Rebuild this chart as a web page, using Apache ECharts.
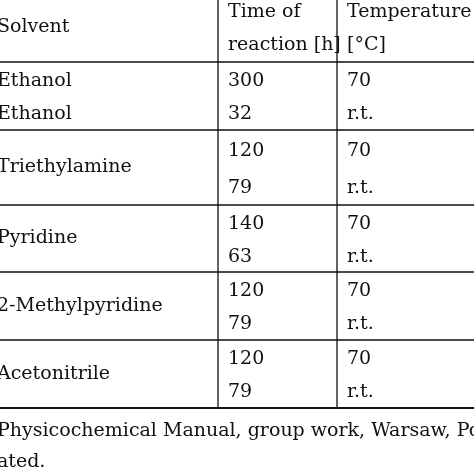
<!DOCTYPE html>
<html><head><meta charset="utf-8">
<script src="https://cdn.jsdelivr.net/npm/echarts@6/dist/echarts.min.js"></script>
<style>html,body{margin:0;background:#fff}#c{width:474px;height:474px}</style>
</head><body><div id="c"></div>
<script>
var headers=[["Solvent"],["Time of","reaction [h]"],["Temperature","[°C]"]];
var solvents=[["Ethanol","Ethanol"],["Triethylamine"],["Pyridine"],["2-Methylpyridine"],["Acetonitrile"]];
var times=[["300","32"],["120","79"],["140","63"],["120","79"],["120","79"]];
var temps=[["70","r.t."],["70","r.t."],["70","r.t."],["70","r.t."],["70","r.t."]];
var footer=["Physicochemical Manual, group work, Warsaw, Poland","ated."];

var groupLines=[62,130,205,272,340,408];
var colX=[-3,228,347];
var vLines=[218,337];
var font='19px "DejaVu Serif", "Liberation Serif", serif';
var els=[];
function txt(x,y,s){els.push({type:'text',x:x,y:y,style:{text:s,font:font,fill:'#111',textVerticalAlign:'middle'}});}
function line(x1,y1,x2,y2,w){els.push({type:'line',shape:{x1:x1,y1:y1,x2:x2,y2:y2},style:{stroke:'#111',lineWidth:w||1.3}});}
txt(colX[0],27,headers[0][0]);
for(var c=1;c<3;c++){txt(colX[c],12,headers[c][0]);txt(colX[c],45,headers[c][1]);}
for(var g=0;g<solvents.length;g++){
  var gTop=groupLines[g],gH=groupLines[g+1]-gTop;
  var ys=[gTop+gH*0.28,gTop+gH*0.77];
  if(solvents[g].length===2){txt(colX[0],ys[0],solvents[g][0]);txt(colX[0],ys[1],solvents[g][1]);}
  else txt(colX[0],gTop+gH*0.5,solvents[g][0]);
  for(var k=0;k<2;k++){txt(colX[1],ys[k],times[g][k]);txt(colX[2],ys[k],temps[g][k]);}
}
groupLines.forEach(function(y,i){line(0,y,474,y,i===groupLines.length-1?2:1.3);});
vLines.forEach(function(x){line(x,0,x,408,1.3);});
txt(-3,431,footer[0]);txt(-3,462,footer[1]);
var chart=echarts.init(document.getElementById('c'));
chart.setOption({backgroundColor:'#fff',graphic:{elements:els}});
</script></body></html>
